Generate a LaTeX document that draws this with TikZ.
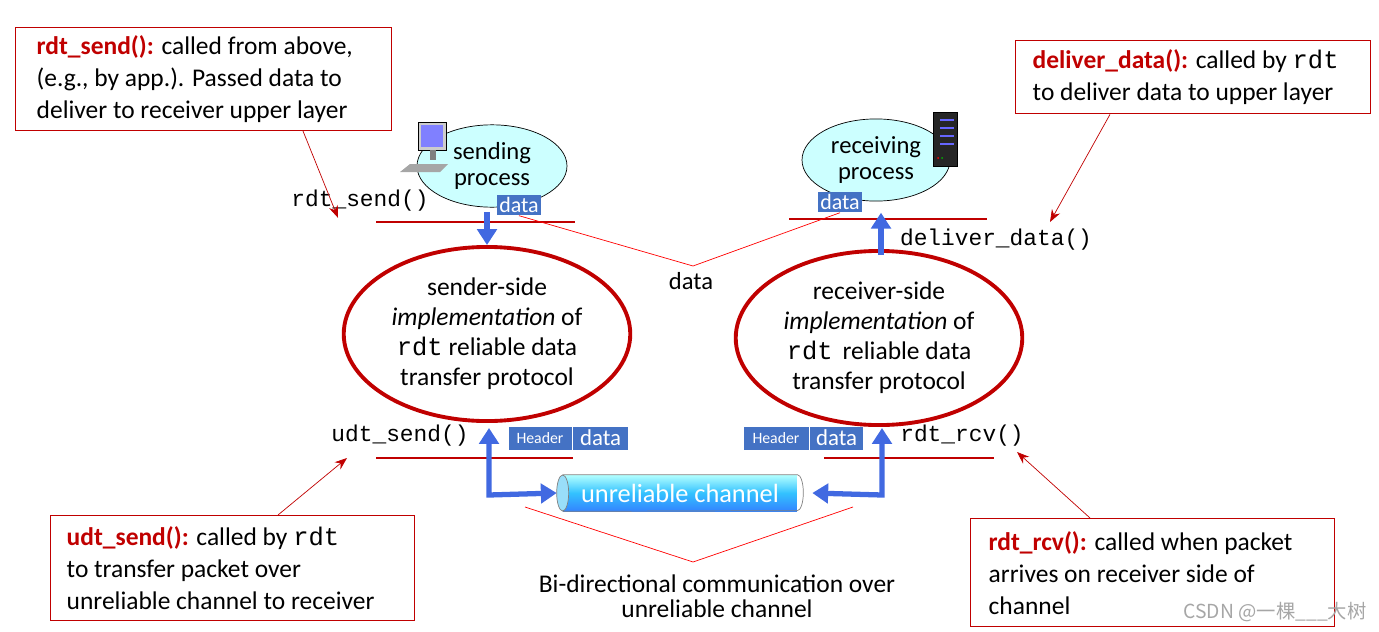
\documentclass[tikz,border=0pt]{standalone}
\usepackage{fontspec}
\setmainfont{Carlito}
\setmonofont{Liberation Mono}
\newfontfamily\cjk{Noto Sans CJK SC}
\usetikzlibrary{shapes.geometric, arrows.meta, positioning}
\definecolor{darkred}{RGB}{192,0,0}
\definecolor{tagblue}{RGB}{68,114,196}
\definecolor{arrblue}{RGB}{65,105,225}
\definecolor{procfill}{RGB}{204,255,255}
\tikzset{
	note/.style={draw=darkred, thick, align=flush left, anchor=north west, inner ysep=0pt, font=\fontsize{14.5}{18.2}\selectfont},
	code/.style={font=\fontsize{13}{15}\ttfamily},
	tag/.style={fill=tagblue, text=white, inner sep=1.5pt, font=\fontsize{12.5}{14}\selectfont},
	hdr/.style={fill=tagblue, text=white, inner sep=1.5pt, minimum height=0.46cm, font=\fontsize{9}{11}\selectfont},
	impl/.style={ellipse, draw=darkred, line width=2.2pt, align=center, font=\fontsize{14.5}{17}\selectfont},
	proc/.style={ellipse, draw, fill=procfill, align=center, font=\fontsize{14}{14.5}\selectfont},
	layer/.style={darkred, line width=1.6pt},
	pointer/.style={darkred, -{Stealth[length=7pt]}},
	flow/.style={arrblue, line width=3pt, -{Triangle[length=9pt,width=11pt]}},
	thinred/.style={red, thin}
}
\newcommand{\rd}[1]{\textcolor{darkred}{\textbf{#1}}}
\begin{document}
\begin{tikzpicture}[x=0.02cm, y=-0.02cm]
	\useasboundingbox (0,0) rectangle (1379,632);

	% notes in the corners
	\node[note, inner xsep=0.42cm, text width=6.68cm, minimum height=2.06cm] (nsend) at (15,27) {\rd{rdt\_send():} called from above,\\(e.g., by app.). Passed data to\\deliver to receiver upper layer};
	\node[note, inner xsep=0.34cm, text width=6.42cm, minimum height=1.46cm] (ndeliver) at (1015,40) {\rd{deliver\_data():} called by {\ttfamily rdt}\\to deliver data to upper layer};
	\node[note, inner xsep=0.32cm, text width=6.64cm, minimum height=2.1cm] (nudt) at (50,515) {\rd{udt\_send():} called by {\ttfamily rdt}\\to transfer packet over\\unreliable channel to receiver};
	\node[note, inner xsep=0.36cm, text width=6.56cm, minimum height=2.16cm] (nrcv) at (970,518) {\rd{rdt\_rcv():} called when packet\\arrives on receiver side of\\channel};

	% processes
	\node[proc, minimum width=3.0cm, minimum height=1.52cm] (sendp) at (492,166) {sending\\process};
	\node[proc, minimum width=2.96cm, minimum height=1.48cm] (recvp) at (876,160) {receiving\\process};
	% computer
	\fill[gray!70] (410,164) -- (448,164) -- (440,172) -- (400,172) -- cycle;
	\draw[fill=gray!40] (418,122) rectangle (446,150);
	\fill[blue!50!white] (421,125) rectangle (443,147);
	\fill[gray] (430,150) rectangle (436,160);
	% server
	\draw[fill=black!85] (933,112) rectangle (957,166);
	\foreach \yy in {120,128,136,144}
		\draw[blue!60!white, thick] (940,\yy) -- (954,\yy);
	\fill[red] (938,158) circle (1);
	\fill[green!70!black] (942,158) circle (1);

	\node[tag] (dsend) at (519,205) {data};
	\node[tag] (drecv) at (840,202) {data};

	% layer lines
	\draw[layer] (376,222) -- (575,222);
	\draw[layer] (789,219) -- (987,219);
	\draw[layer] (376,458) -- (573,458);
	\draw[layer] (824,458) -- (994,458);

	\node[code] (lsend) at (360,201) {rdt\_send()};
	\node[code] (ldeliver) at (996,240) {deliver\_data()};
	\node[code] (ludt) at (400,436) {udt\_send()};
	\node[code] (lrcv) at (962,436) {rdt\_rcv()};

	% implementations
	\node[impl, minimum width=5.28cm, minimum height=2.72cm] (simpl) at (487,334) {sender-side\\\textit{implementation} of\\{\ttfamily rdt} reliable data\\transfer protocol};
	\node[impl, minimum width=5.2cm, minimum height=2.8cm] (rimpl) at (879,338) {receiver-side\\\textit{implementation} of\\{\ttfamily rdt}\, reliable data\\transfer protocol};

	\coordinate (sdown) at (487,212);
	\coordinate (rup) at (881,255);
	\draw[flow] (sdown) -- (simpl.north);
	\draw[flow] (rup) -- (drecv.south -| rup);

	% data annotation
	\node[font=\fontsize{14}{16}\selectfont] (ldata) at (691,281) {data};
	\coordinate (vdata) at (693,266);
	\draw[thinred] (dsend.south) -- (vdata) -- (drecv.south);

	% packets
	\node[hdr, minimum width=1.26cm] (hs) at (540,438) {Header};
	\node[hdr, minimum width=1.1cm, font=\fontsize{13}{14}\selectfont, right=0.5pt of hs] (ds) {data};
	\node[hdr, minimum width=1.3cm] (hr) at (776,438) {Header};
	\node[hdr, minimum width=1.06cm, font=\fontsize{13}{14}\selectfont, right=0.5pt of hr] (dr) {data};

	% channel
	\node[minimum width=4.68cm, minimum height=0.72cm, inner sep=0pt, top color=cyan!30!white, bottom color=cyan!40!blue!80, middle color=cyan!70!blue!80, text=white, font=\fontsize{15}{17}\selectfont] (chan) at (680,493) {unreliable channel};
	\draw[gray] (chan.north west) -- (chan.north east) arc[start angle=90, end angle=-90, x radius=0.12cm, y radius=0.36cm] -- (chan.south west);
	\draw[gray, fill=cyan!40!white] (chan.west) ellipse[x radius=0.12cm, y radius=0.36cm];

	\coordinate (sc) at (489,495);
	\coordinate (rc) at (882,495);
	\draw[flow, {Triangle[length=9pt,width=11pt]}-{Triangle[length=9pt,width=11pt]}] (489,428) -- (sc) -- ([xshift=-0.12cm]chan.west);
	\draw[flow, {Triangle[length=9pt,width=11pt]}-{Triangle[length=9pt,width=11pt]}] (882,428) -- (rc) -- ([xshift=0.3cm]chan.east);

	\node[align=center, font=\fontsize{14.5}{14.5}\selectfont] (lbi) at (717,596) {Bi-directional communication over\\unreliable channel};
	\coordinate (vbi) at (693,562);
	\draw[thinred] (525,507) -- (vbi) -- (853,507);

	% pointers
	\draw[pointer] (303,131) -- (lsend.south -| 338,0);
	\draw[pointer] (ndeliver.south -| 1110,0) -- (1050,222);
	\draw[pointer] (nudt.north -| 278,0) -- (347,458);
	\draw[pointer] (nrcv.north -| 1090,0) -- (1017,452);

	\node[gray!70, font=\fontsize{11}{12}\cjk] (mark) at (1275,612) {CSDN @一棵\_\_\_大树};
\end{tikzpicture}
\end{document}
